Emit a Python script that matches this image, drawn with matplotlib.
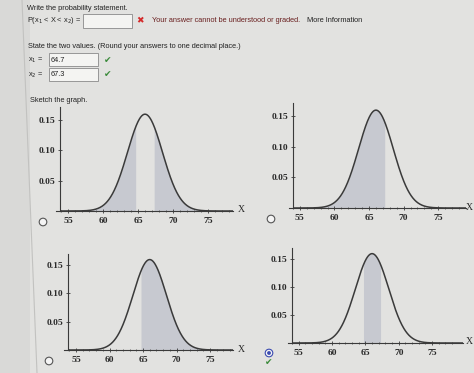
import numpy as np
import matplotlib
matplotlib.use("Agg")
import matplotlib.pyplot as plt
from matplotlib.patches import Rectangle, Circle
from matplotlib.lines import Line2D

# ---- data ----
mean = 66.0
sd = 2.5
x1 = 64.7
x2 = 67.3
x_ticks = [55, 60, 65, 70, 75]
y_ticks = [0.05, 0.10, 0.15]
y_tick_labels = ["0.05", "0.10", "0.15"]
# shading mode for each panel: TL, TR, BL, BR
modes = ["tails", "left", "right", "between"]

W, H = 474, 373
fig = plt.figure(figsize=(W / 100, H / 100), dpi=100)
fig.patch.set_facecolor("#e2e2e0")

def fx(px):
    return px / W

def fy(py):
    return 1 - py / H

# page background: slight darker margin at left
bg = fig.add_axes([0, 0, 1, 1])
bg.set_xlim(0, W)
bg.set_ylim(H, 0)
bg.axis("off")
bg.add_patch(Rectangle((0, 0), 30, H, color="#d9d9d7", lw=0, zorder=0))
bg.add_line(Line2D([22, 37], [0, H], color="#c2c2c0", lw=0.8))

sans = "Liberation Sans"
fs = 5.3
dark = "#222222"

bg.text(27, 9, "Write the probability statement.", fontsize=fs, family=sans, color=dark, va="center")
bg.text(27, 21, r"P(x$_1$ < X < x$_2$) =", fontsize=fs, family=sans, color=dark, va="center")
bg.add_patch(Rectangle((83, 14), 49, 14, facecolor="#f4f4f2", edgecolor="#8a8a8a", lw=0.6))
bg.text(140, 21, "\u2716", fontsize=6.5, family="DejaVu Sans", color="#d42a2a", va="center", ha="center")
bg.text(152, 20, "Your answer cannot be understood or graded.", fontsize=fs, family=sans,
        color="#6a2020", va="center")
bg.text(307, 20, "More Information", fontsize=fs, family=sans, color=dark, va="center")

bg.text(28, 47, "State the two values. (Round your answers to one decimal place.)", fontsize=fs,
        family=sans, color=dark, va="center")
for yy, lab, val in [(60, r"x$_1$ =", f"{x1:.1f}"), (75, r"x$_2$ =", f"{x2:.1f}")]:
    bg.text(28, yy, lab, fontsize=fs, family=sans, color=dark, va="center")
    bg.add_patch(Rectangle((49, yy - 7), 49, 13, facecolor="#f4f4f2", edgecolor="#8a8a8a", lw=0.6))
    bg.text(51, yy, val, fontsize=fs, family=sans, color=dark, va="center")
    bg.text(108, yy, "\u2714", fontsize=6.5, family="DejaVu Sans", color="#3a8a3a", va="center", ha="center")

bg.text(30, 100, "Sketch the graph.", fontsize=fs, family=sans, color=dark, va="center")

# panel geometry in pixels: y-axis x, pixel of x=55, px per unit, right end, baseline, px of 0.15, top
panels = [
    dict(yax=60, p55=68, ppu=7.0, right=233, base=211, p15=120, top=107, radio=(43, 222)),
    dict(yax=293, p55=299, ppu=6.95, right=466, base=208, p15=116, top=103, radio=(271, 219)),
    dict(yax=68, p55=76, ppu=6.7, right=233, base=350, p15=265, top=254, radio=(49, 361)),
    dict(yax=292, p55=298, ppu=6.7, right=463, base=343, p15=259, top=248, radio=(269, 353)),
]

line_col = "#3a3a3a"
shade = "#c7c9d0"
serif = "Liberation Serif"

for p, mode in zip(panels, modes):
    xmin = 55 - (p["p55"] - p["yax"]) / p["ppu"]
    xmax = 55 + (p["right"] - p["p55"]) / p["ppu"]
    ppy = (p["base"] - p["p15"]) / 0.15
    ymax = (p["base"] - p["top"]) / ppy
    ax = fig.add_axes([fx(p["yax"]), fy(p["base"]), (p["right"] - p["yax"]) / W,
                       (p["base"] - p["top"]) / H])
    ax.set_facecolor("none")
    ax.set_xlim(xmin, xmax)
    ax.set_ylim(0, ymax)
    xs = np.linspace(xmin, xmax, 600)
    ys = np.exp(-0.5 * ((xs - mean) / sd) ** 2) / (sd * np.sqrt(2 * np.pi))
    if mode == "tails":
        m1 = xs <= x1
        m2 = xs >= x2
        ax.fill_between(xs[m1], 0, ys[m1], color=shade, lw=0)
        ax.fill_between(xs[m2], 0, ys[m2], color=shade, lw=0)
    elif mode == "left":
        m = xs <= x2
        ax.fill_between(xs[m], 0, ys[m], color=shade, lw=0)
    elif mode == "right":
        m = xs >= x1
        ax.fill_between(xs[m], 0, ys[m], color=shade, lw=0)
    else:
        m = (xs >= x1) & (xs <= x2)
        ax.fill_between(xs[m], 0, ys[m], color=shade, lw=0)
    ax.plot(xs, ys, color=line_col, lw=1.1)
    for s in ["top", "right"]:
        ax.spines[s].set_visible(False)
    for s in ["left", "bottom"]:
        ax.spines[s].set_color(line_col)
        ax.spines[s].set_linewidth(0.8)
    ax.set_xticks(x_ticks)
    ax.set_xticklabels([str(t) for t in x_ticks])
    ax.set_xticks(np.arange(54, 79, 1), minor=True)
    ax.set_yticks(y_ticks)
    ax.set_yticklabels(y_tick_labels)
    ax.tick_params(axis="x", which="major", direction="inout", length=3, width=0.6,
                   colors=line_col, labelsize=6.8, pad=3)
    ax.tick_params(axis="x", which="minor", direction="inout", length=2, width=0.5, colors=line_col)
    ax.tick_params(axis="y", which="major", direction="inout", length=3, width=0.6,
                   colors=line_col, labelsize=6.8, pad=2)
    for lab in ax.get_xticklabels() + ax.get_yticklabels():
        lab.set_family(serif)
        lab.set_weight("bold")
        lab.set_color("#2a2a2a")
    # x-axis line extends slightly left of the y-axis
    bg.add_line(Line2D([p["yax"] - 4, p["yax"]], [p["base"], p["base"]], color=line_col, lw=0.8))
    bg.text(min(p["right"] + 8, 469), p["base"] - 1, "X", fontsize=7, family=serif, color="#2a2a2a",
            va="center", ha="center")
    rx, ry = p["radio"]
    bg.add_patch(Circle((rx, ry), 3.8, facecolor="#f4f4f4", edgecolor="#555555", lw=0.8))

# selected radio and check
rx, ry = panels[3]["radio"]
bg.patches[-1].set_edgecolor("#3a4ab0")
bg.add_patch(Circle((rx, ry), 1.9, facecolor="#3a4ab0", edgecolor="none"))
bg.text(rx, ry + 10, "\u2714", fontsize=6.5, family="DejaVu Sans", color="#3a8a3a", va="center", ha="center")

fig.savefig("out.png", dpi=100, facecolor=fig.get_facecolor())
